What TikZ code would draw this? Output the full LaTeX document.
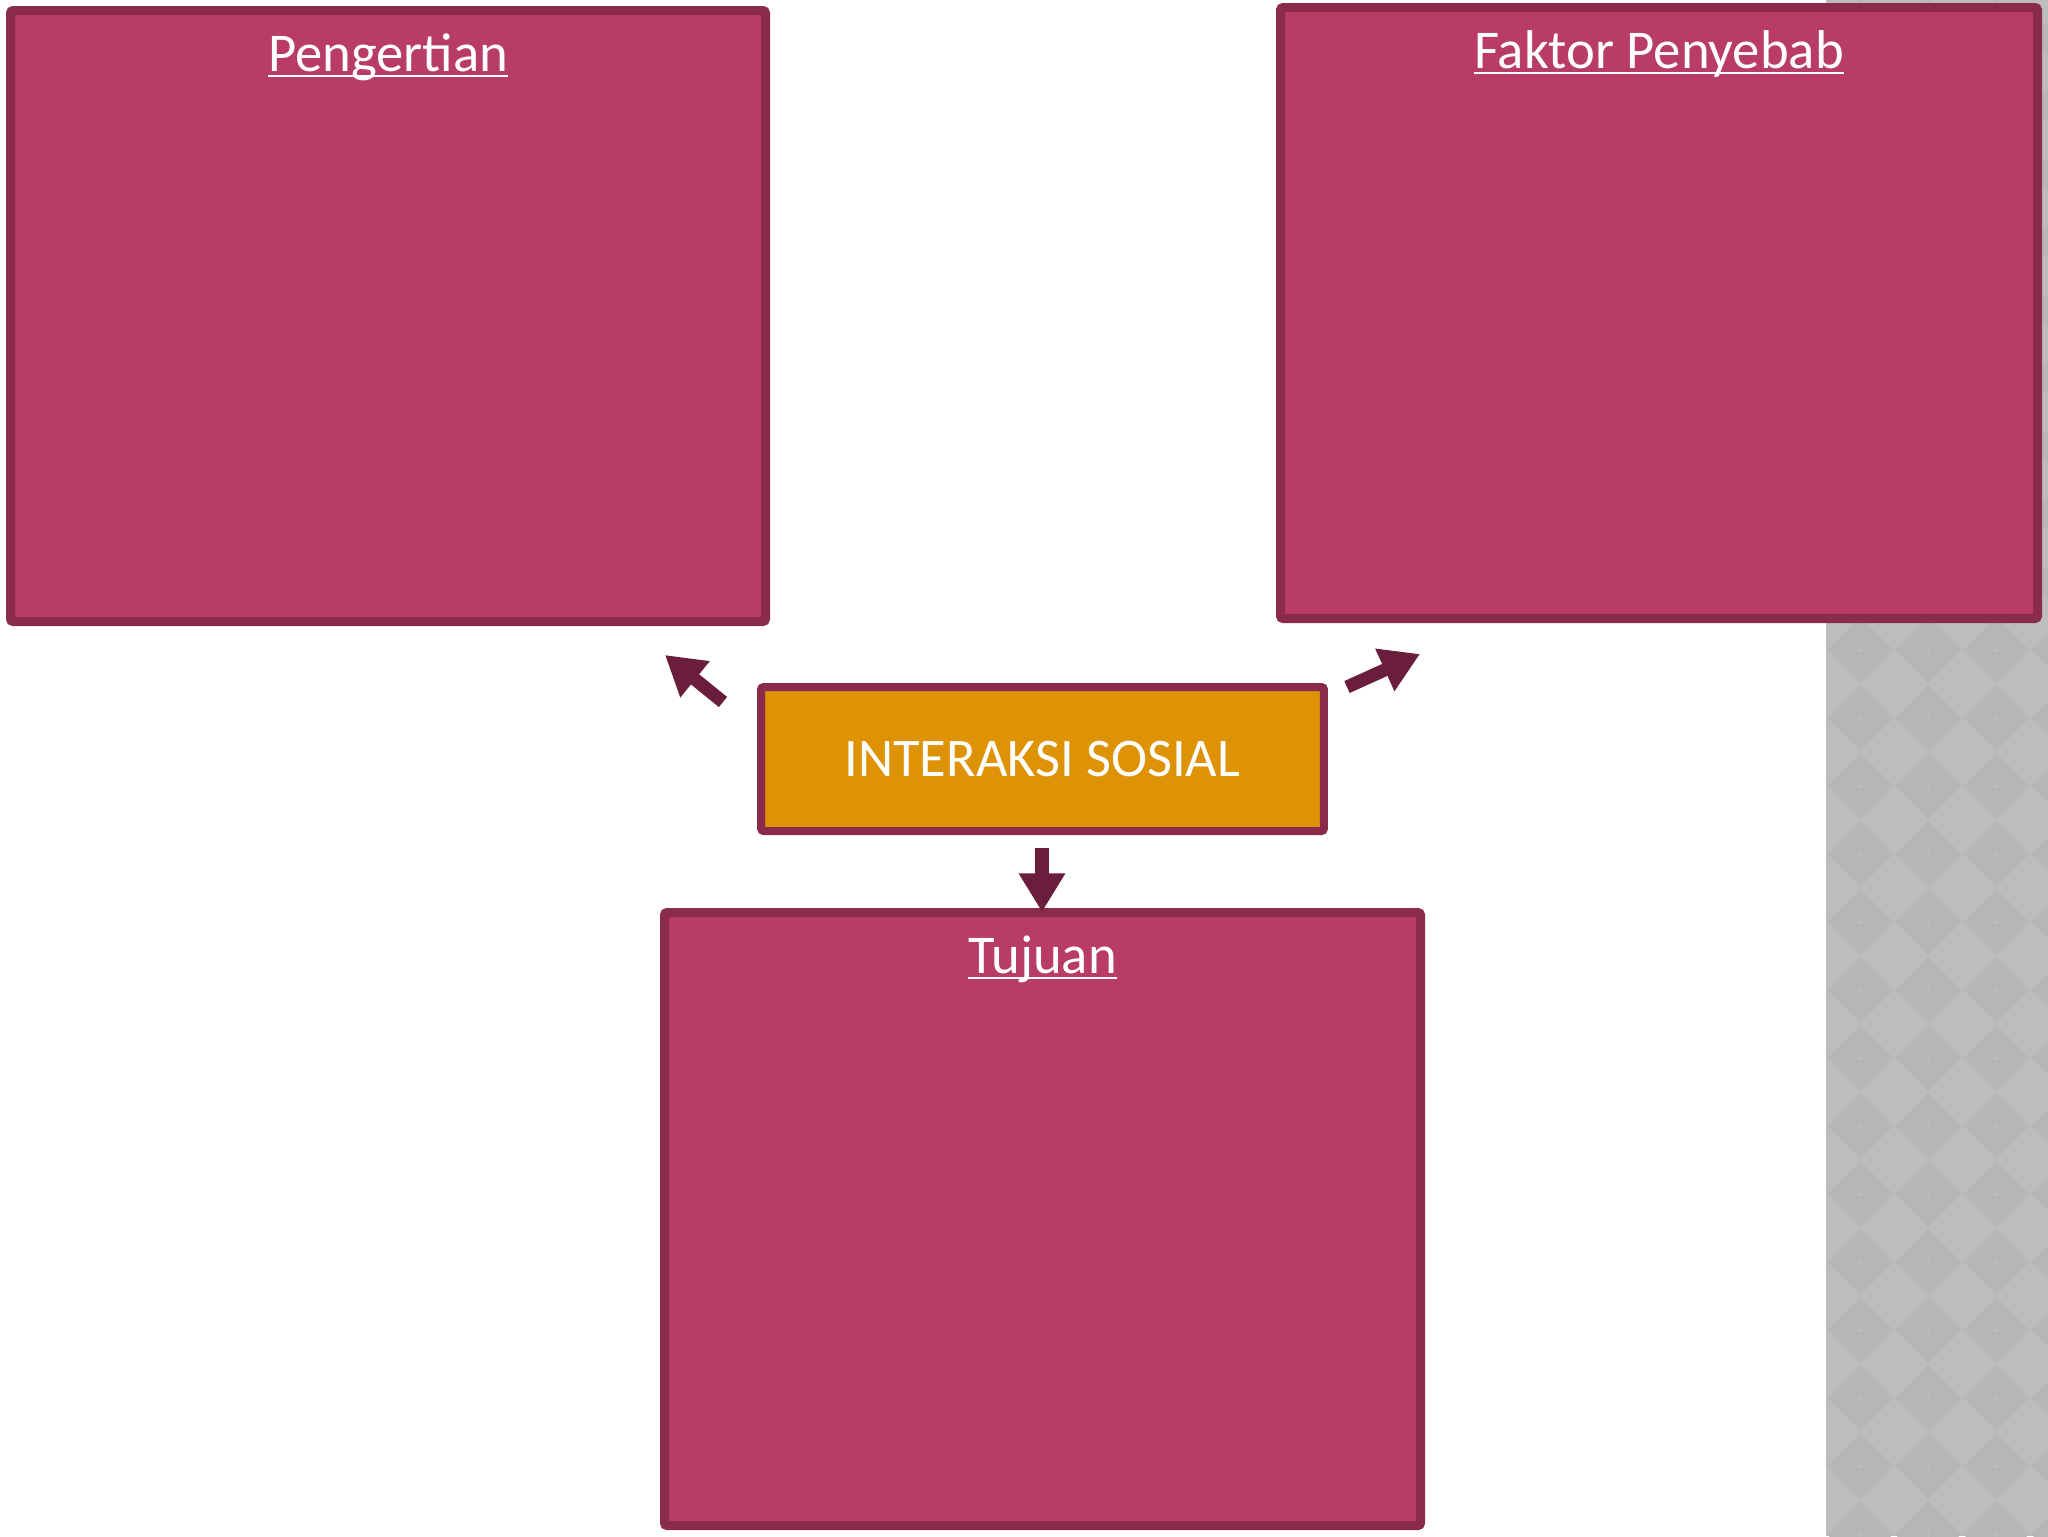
\documentclass[tikz,border=0pt]{standalone}
\usepackage{fontspec}
\setmainfont{Carlito}
\usetikzlibrary{arrows.meta}
\definecolor{boxfill}{HTML}{B83C66}
\definecolor{boxline}{HTML}{8A2B4C}
\definecolor{orangefill}{HTML}{DE9206}
\definecolor{arrowcol}{HTML}{6A1E3B}
\definecolor{graydark}{HTML}{B6B6B6}
\definecolor{graylight}{HTML}{BDBDBD}
\definecolor{grayplus}{HTML}{BEBEBE}
\begin{document}
\begin{tikzpicture}[x=0.375pt,y=-0.375pt,
 bigbox/.style={draw=boxline, fill=boxfill, line width=3.375pt, rounded corners=1pt, inner sep=0pt, outer sep=0pt},
 centerbox/.style={draw=boxline, fill=orangefill, line width=3pt, rounded corners=1pt, inner sep=0pt, outer sep=0pt, text=white, font=\fontsize{20.4}{24}\selectfont},
 titletext/.style={text=white, inner sep=0pt, outer sep=0pt, anchor=base, font=\fontsize{20.5}{24}\selectfont},
 titleline/.style={draw=white, line width=0.94pt},
 blockarrow/.style={draw=arrowcol, line width=4.9pt, -{Triangle[width=16.5pt,length=14.5pt]}}
]
\useasboundingbox (0,0) rectangle (2048,1536);
\fill[white] (0,0) rectangle (2048,1536);
% gray patterned strip
\begin{scope}
\clip (1826,0) rectangle (2048,1536);
\fill[graylight] (1826,0) rectangle (2048,1536);
\foreach \i in {0,...,4} {
 \foreach \j in {0,...,23} {
  \fill[graydark] ({1792+68*\i},{-30+68*\j}) +(33,0) -- +(0,33) -- +(-33,0) -- +(0,-33) -- cycle;
  \draw[grayplus, line width=0.3pt] ({1792+68*\i-4},{-30+68*\j}) -- ({1792+68*\i+4},{-30+68*\j})
        ({1792+68*\i},{-30+68*\j-4}) -- ({1792+68*\i},{-30+68*\j+4});
 }
}
\end{scope}
% boxes
\node[bigbox, minimum width=283.125pt, minimum height=229.125pt] (peng) at (388,316) {};
\node[bigbox, minimum width=283.875pt, minimum height=229.125pt] (faktor) at (1659,313) {};
\node[bigbox, minimum width=283.5pt, minimum height=229.875pt] (tujuan) at (1042.5,1219) {};
\node[centerbox, minimum width=211.1pt, minimum height=54pt] (inter) at (1042.5,759) {INTERAKSI SOSIAL};
% titles
\node[titletext] (tpeng) at (388,71) {Pengertian};
\node[titletext] (tfaktor) at (1659,68) {Faktor Penyebab};
\node[titletext] (ttujuan) at (1042.5,973) {Tujuan};
\draw[titleline] ([yshift=-1.9pt]tpeng.base west) -- ([yshift=-1.9pt]tpeng.base east);
\draw[titleline] ([yshift=-1.9pt]tfaktor.base west) -- ([yshift=-1.9pt]tfaktor.base east);
\draw[titleline] ([yshift=-1.9pt]ttujuan.base west) -- ([yshift=-1.9pt]ttujuan.base east);
% arrows
\coordinate (a1s) at (723,702);
\coordinate (a1e) at (665,655);
\coordinate (a2s) at (1347,687);
\coordinate (a2e) at (1420,654);
\coordinate (a3s) at (1042,848);
\coordinate (a3e) at (1042,912);
\draw[blockarrow] (a1s) -- (a1e);
\draw[blockarrow] (a2s) -- (a2e);
\draw[blockarrow] (a3s) -- (a3e);
\end{tikzpicture}
\end{document}
